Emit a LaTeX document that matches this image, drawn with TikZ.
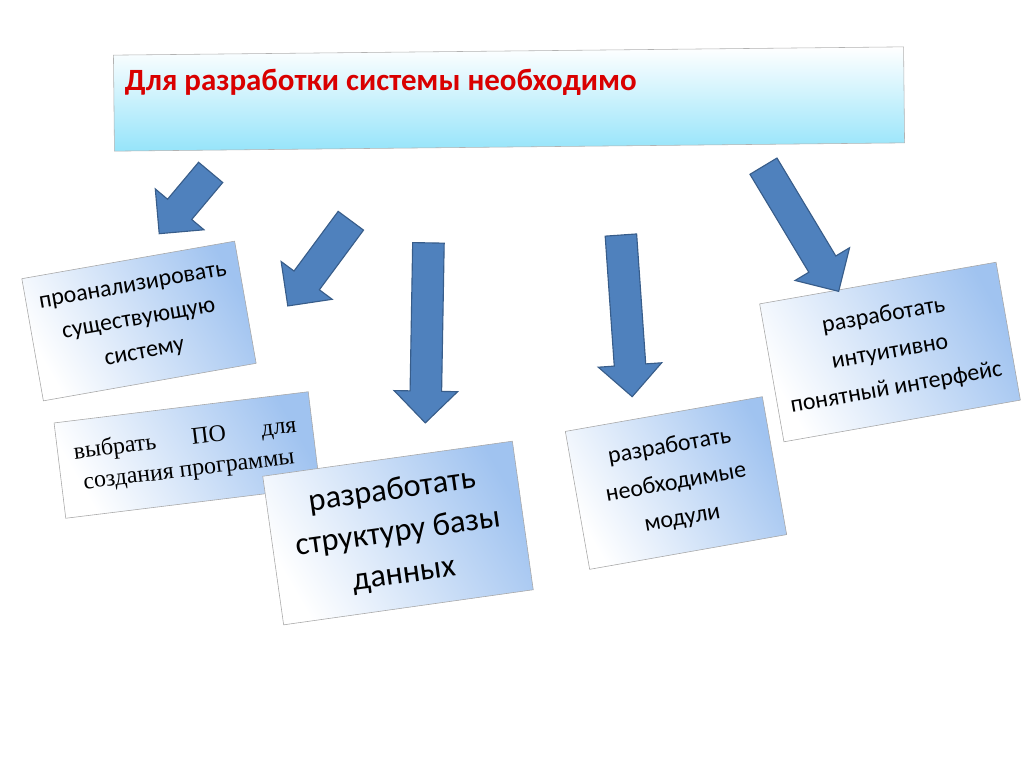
\documentclass[tikz,border=0pt]{standalone}
\usepackage{fontspec}
\setmainfont{Carlito}
\newfontfamily\timesfont{Liberation Serif}
\usetikzlibrary{shapes.arrows}

\definecolor{arrowblue}{RGB}{79,129,189}
\definecolor{arrowedge}{RGB}{56,93,138}
\definecolor{boxblue}{RGB}{160,195,240}
\definecolor{topcyan}{RGB}{150,228,250}

\tikzset{
  taskbox/.style={draw=gray!70, rectangle, left color=white, right color=boxblue,
    shading angle=120, align=center, inner sep=4pt},
  downarrow/.style={single arrow, draw=arrowedge, fill=arrowblue, thick,
    inner xsep=0pt, inner ysep=0.38cm, single arrow head extend=0.4cm}
}

\begin{document}
\begin{tikzpicture}[x=0.025cm,y=-0.025cm]
\useasboundingbox (0,0) rectangle (1024,768);

% header
\node[draw=gray!60, rectangle, top color=white, bottom color=topcyan,
  minimum width=19.75cm, minimum height=2.4cm, rotate=0.6] (head) at (509,99) {};
\node[anchor=west, text=red!85!black, font=\bfseries\fontsize{22}{26}\selectfont] (title) at (120,82)
  {Для разработки системы необходимо};

% tasks
\node[taskbox, rotate=10, minimum width=5.4cm, minimum height=3.1cm,
  font=\fontsize{17}{24}\selectfont] (analyse) at (139,321)
  {проанализировать\\существующую\\систему};
\node[taskbox, rotate=7, minimum width=6.4cm, minimum height=2.4cm,
  font=\timesfont\fontsize{17}{22}\selectfont] (choose) at (187,455)
  {\makebox[5.6cm][s]{выбрать\hfill ПО\hfill для}\\создания программы};
\node[taskbox, rotate=8, minimum width=6.3cm, minimum height=3.75cm,
  font=\fontsize{23}{30}\selectfont] (db) at (398,533)
  {разработать\\структуру базы\\данных};
\node[taskbox, rotate=10, minimum width=5cm, minimum height=3.5cm,
  font=\fontsize{17}{26}\selectfont] (modules) at (676,483)
  {разработать\\необходимые\\модули};
\node[taskbox, rotate=10, minimum width=6cm, minimum height=3.5cm,
  font=\fontsize{17}{26}\selectfont] (ui) at (890,352)
  {разработать\\интуитивно\\понятный интерфейс};

% arrows
\node[downarrow, minimum height=2cm, rotate=230] (a1) at (190,197) {};
\node[downarrow, minimum height=2.65cm, rotate=233.5] (a2) at (324,257) {};
\node[downarrow, minimum height=4.5cm, rotate=269] (a3) at (427,325) {};
\node[downarrow, minimum height=4.05cm, rotate=274] (a4) at (626,308) {};
\node[downarrow, minimum height=3.65cm, rotate=301] (a5) at (797,222) {};
\end{tikzpicture}
\end{document}
